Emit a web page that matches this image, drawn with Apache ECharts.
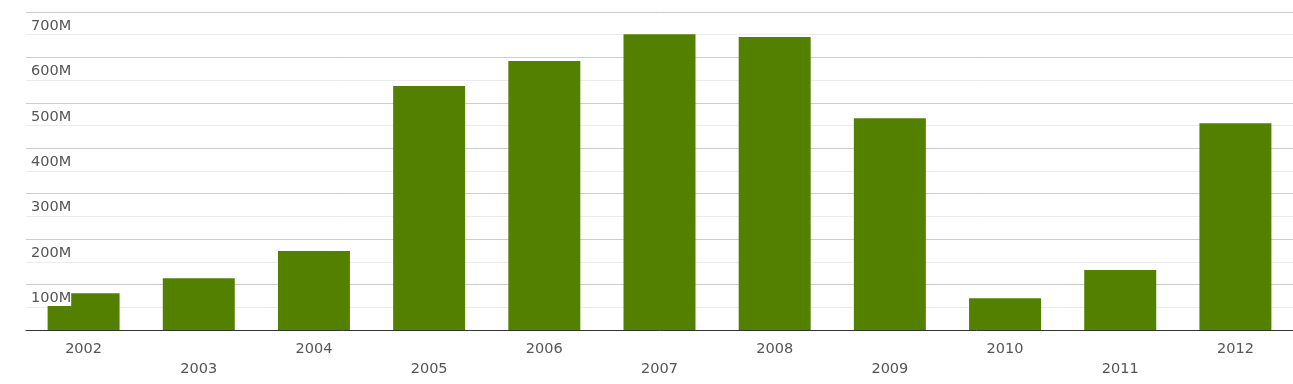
<!DOCTYPE html>
<html>
<head>
<meta charset="utf-8">
<script src="https://cdn.jsdelivr.net/npm/echarts@6/dist/echarts.min.js"></script>
<style>
html,body{margin:0;padding:0;background:#fff;}
#chart{width:1293px;height:384px;}
</style>
</head>
<body>
<div id="chart"></div>
<script>
const categories = ['2002','2003','2004','2005','2006','2007','2008','2009','2010','2011','2012'];
const values = [81e6, 114e6, 174e6, 537e6, 592e6, 651e6, 645e6, 466e6, 70e6, 132e6, 455e6];
const yTicks = [0, 100e6, 200e6, 300e6, 400e6, 500e6, 600e6, 700e6];

const fmtM = v => (v / 1e6) + 'M';
const yMin = yTicks[0], yMax = yTicks[yTicks.length - 1], yStep = yTicks[1] - yTicks[0];
const font = 'DejaVu Sans';
const fs = 14.5;

const chart = echarts.init(document.getElementById('chart'), null, {renderer: 'canvas'});
chart.setOption({
  animation: false,
  backgroundColor: '#fff',
  grid: {left: 26, right: 0, top: 12, bottom: 54, containLabel: false},
  xAxis: {
    type: 'category',
    data: categories,
    boundaryGap: true,
    axisLine: {show: true, lineStyle: {color: '#333', width: 1}},
    axisTick: {show: false},
    axisLabel: {
      interval: 0,
      margin: 9,
      color: '#555',
      fontFamily: font,
      fontSize: fs,
      lineHeight: 20,
      formatter: (v, i) => (i % 2 === 1 ? '\n' + v : v)
    },
    splitLine: {show: false}
  },
  yAxis: [
    {
      type: 'value',
      position: 'left',
      min: yMin, max: yMax, interval: yStep,
      axisLine: {show: false},
      axisTick: {show: false},
      axisLabel: {show: false},
      splitLine: {show: true, lineStyle: {color: '#cccccc', width: 1}},
      minorTick: {show: false, splitNumber: 2},
      minorSplitLine: {show: true, lineStyle: {color: '#ebebeb', width: 1}}
    },
    {
      type: 'value',
      position: 'left',
      min: yMin, max: yMax, interval: yStep,
      z: 10,
      axisLine: {show: false},
      axisTick: {show: false},
      splitLine: {show: false},
      axisLabel: {
        inside: true,
        margin: 5,
        verticalAlign: 'top',
        align: 'left',
        color: '#555',
        fontFamily: font,
        fontSize: fs,
        lineHeight: 8,
        formatter: v => (v === 0 ? '' : '\n{a|' + fmtM(v) + '}'),
        rich: {
          a: {
            fontFamily: font,
            fontSize: fs,
            lineHeight: 12,
            color: '#555',
            backgroundColor: '#fff'
          }
        }
      }
    }
  ],
  series: [{
    type: 'bar',
    data: values,
    barCategoryGap: '37.5%',
    itemStyle: {color: '#548000'},
    z: 2
  }]
});
</script>
</body>
</html>
